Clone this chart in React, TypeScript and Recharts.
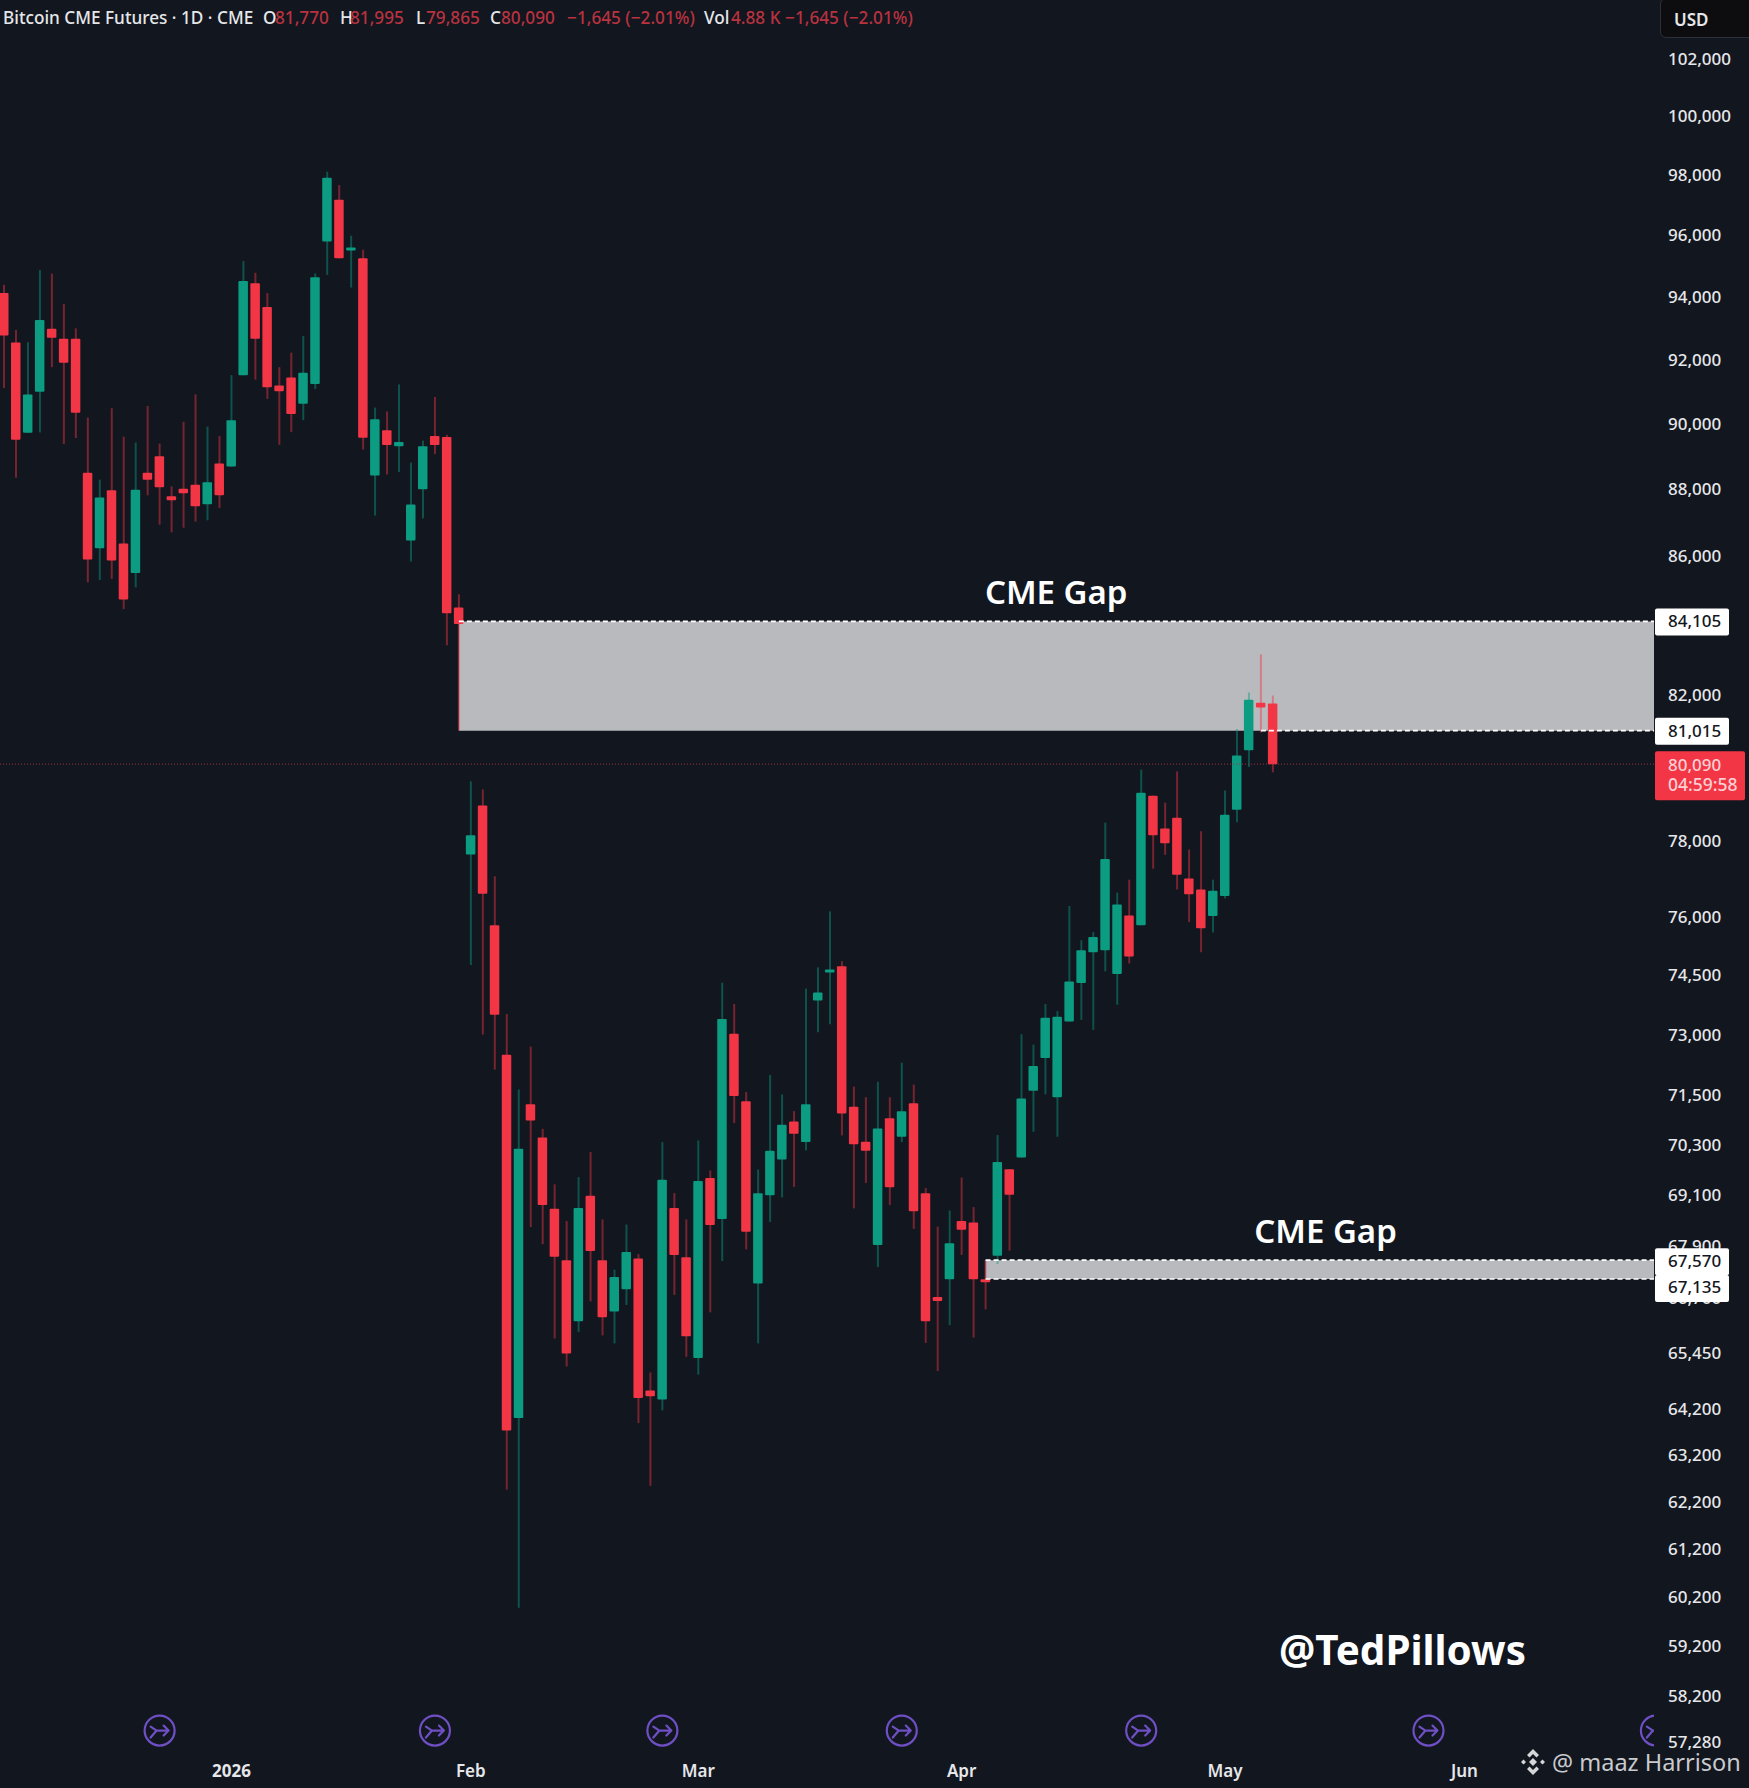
import React from "react"
import { ComposedChart, Bar, XAxis, YAxis, ReferenceArea, ReferenceLine, ReferenceDot } from "recharts"

// daily candles
const opens = [
  94120, 92540, 89720, 90990, 92980, 92660, 92660, 88500, 86240, 87970, 86380, 85510, 88500, 89000, 87790, 88020, 88140, 87550, 88780, 88690,
  91510, 94440, 93670, 91190, 91440, 90620, 91230, 95800, 97180, 95570, 95250, 88420, 89800, 89310, 86470, 88000, 89620, 89590, 84510, 77650,
  78960, 75790, 72500, 64010, 71280, 70470, 68770, 67570, 66170, 69080, 67570, 66390, 66900, 67610, 64620, 64420, 68790, 67640, 65340, 69500,
  68530, 73020, 71350, 67030, 69090, 69940, 70860, 70360, 73860, 74580, 74730, 71220, 70370, 67920, 70940, 70490, 71300, 69140, 66720, 67130,
  68480, 68450, 67130, 67670, 69710, 69990, 71610, 72420, 71450, 73330, 74300, 75090, 75140, 74530, 76040, 75790, 79230, 78340, 78630, 77010,
  76720, 76030, 76550, 78850, 80470, 81790, 81770,
]
const highs = [
  94390, 92940, 92550, 94870, 94750, 93770, 92990, 90190, 88290, 90480, 89600, 89420, 90550, 89390, 88090, 90060, 90910, 89910, 89620, 91510,
  95160, 94780, 94120, 91760, 92220, 92750, 94760, 98120, 97670, 95990, 95530, 90500, 90380, 91220, 88810, 89480, 90830, 89660, 84890, 79620,
  79400, 77070, 73520, 71640, 72700, 70680, 69350, 68480, 69520, 70120, 68520, 67350, 68400, 67710, 65020, 70360, 69140, 68520, 70400, 69680,
  74310, 73770, 71580, 69700, 72000, 71520, 71110, 74160, 74700, 76150, 74860, 71710, 71450, 71830, 71450, 72300, 71760, 69260, 68350, 68730,
  69510, 68810, 67570, 70530, 69710, 73010, 72750, 73770, 73590, 76290, 75400, 75610, 78500, 76640, 76980, 79940, 79230, 79040, 79890, 77780,
  78270, 76980, 79370, 81060, 82080, 83160, 81995,
]
const lows = [
  91110, 88350, 89720, 89730, 91760, 89380, 89560, 85240, 85310, 85340, 84460, 85090, 87820, 86940, 86710, 86850, 87030, 87070, 87440, 88690,
  91510, 91370, 90770, 89350, 89740, 90110, 91080, 94710, 95250, 94300, 89210, 87210, 88450, 88520, 85850, 87130, 89070, 83420, 81015, 74760,
  73000, 72130, 62460, 59980, 68340, 67940, 65780, 65150, 65930, 66620, 65850, 65670, 66540, 63900, 62540, 64180, 66770, 65370, 64970, 66370,
  67550, 70820, 67820, 65670, 68460, 69040, 69290, 70160, 73060, 73260, 70520, 68780, 69380, 67410, 68860, 70360, 68300, 65680, 65050, 66080,
  67690, 65800, 66440, 67480, 67790, 69990, 70610, 71520, 70490, 73330, 73370, 73120, 74600, 73750, 74800, 75790, 77270, 77640, 76720, 75870,
  75090, 75600, 76490, 78510, 80010, 80960, 79865,
]
const closes = [
  92760, 89510, 90910, 93260, 92690, 91900, 90340, 85910, 87750, 85880, 84740, 87990, 88290, 88060, 87670, 87880, 87490, 88210, 87820, 90110,
  94510, 92660, 91130, 91010, 90300, 91590, 94630, 97920, 95250, 95600, 89570, 90140, 89350, 89440, 87540, 89310, 89350, 84340, 84030, 78160,
  76610, 73500, 63740, 70200, 70880, 68860, 67650, 65440, 68790, 67780, 66260, 67180, 67760, 64450, 64490, 69460, 67690, 65830, 69430, 68390,
  73390, 71480, 68230, 69140, 70150, 70780, 70560, 71280, 74060, 74650, 71050, 70310, 70150, 70690, 69280, 71110, 68710, 66170, 66630, 67960,
  68280, 67130, 67090, 69880, 69100, 71420, 72220, 73420, 73450, 74340, 75140, 75480, 77530, 76330, 74980, 79310, 78160, 77950, 77110, 76600,
  75710, 76690, 78710, 80330, 81880, 81660, 80090,
]

const priceTicks = [
  102000, 100000, 98000, 96000, 94000, 92000, 90000, 88000, 86000, 82000, 78000, 76000, 74500, 73000, 71500, 70300, 69100, 67900, 66700,
  65450, 64200, 63200, 62200, 61200, 60200, 59200, 58200, 57280,
]
const gapLevels = [84105, 81015, 67570, 67135]
const lastPrice = 80090
const countdown = "04:59:58"

const monthDays = [19, 39, 58, 80, 102, 122]
const monthLabels = ["2026", "Feb", "Mar", "Apr", "May", "Jun"]
const eventDays = [13, 36, 55, 75, 95, 119, 138]

const BG = "#12161f"
const UP = "#0b9c82"
const DOWN = "#f23645"
const FONT = "'Noto Sans', sans-serif"

const WIDTH = 1749
const HEIGHT = 1788
const PLOT_W = 1654
const X_DOMAIN = [-0.334, 137.84]
const Y_DOMAIN = [57030, 104066]

const candles = opens.map((open, i) => ({
  day: i,
  up: closes[i] >= open,
  body: [Math.min(open, closes[i]), Math.max(open, closes[i])],
  wick: [lows[i], highs[i]],
}))

const fmt = (v: number) => v.toLocaleString("en-US")

function Body(props: any) {
  const { x, y, width, height, payload } = props
  const h = Math.max(height, 3)
  return <rect x={x} y={y} width={width} height={h} rx={1} fill={payload.up ? UP : DOWN} />
}

function Wick(props: any) {
  const { x, y, width, height, payload } = props
  return <rect x={x} y={y} width={width} height={height} fill={payload.up ? UP : DOWN} fillOpacity={0.45} />
}

function PriceTick(props: any) {
  const { x, y, payload } = props
  const v = payload.value
  const left = x - 7
  const tx = x + 6
  if (v === lastPrice) {
    return (
      <g fontFamily={FONT} fontSize={17} fontWeight={500}>
        <rect x={left} y={y - 13} width={90} height={49} rx={2} fill={DOWN} />
        <text x={tx} y={y + 7} fill="#fbd0d4">{fmt(v)}</text>
        <text x={tx} y={y + 27} fontSize={17.5} fill="#fbd0d4">{countdown}</text>
      </g>
    )
  }
  if (gapLevels.includes(v)) {
    // the two lower labels sit against each other, so they get pushed apart
    const top = v === 67570 ? y - 12 : v === 67135 ? y - 4 : y - 13
    const ty = v === 67570 ? y + 7 : v === 67135 ? y + 14 : y + 6
    return (
      <g fontFamily={FONT} fontSize={17} fontWeight={500}>
        <rect x={left} y={top} width={74} height={27} rx={2} fill="#ffffff" />
        <text x={tx} y={ty} fill="#131722">{fmt(v)}</text>
      </g>
    )
  }
  return (
    <text x={tx} y={y + 6} fontFamily={FONT} fontSize={17} fontWeight={500} fill="#e6e7ea">
      {fmt(v)}
    </text>
  )
}

function MonthTick(props: any) {
  const { x, y, payload } = props
  const label = monthLabels[monthDays.indexOf(payload.value)]
  return (
    <text x={x} y={y + 14} textAnchor="middle" fontFamily={FONT} fontSize={17} fontWeight={label === "2026" ? 700 : 600} fill="#e6e7ea">
      {label}
    </text>
  )
}

function EventIcon(props: any) {
  const { cx, cy } = props
  const id = `clip-${Math.round(cx)}`
  return (
    <g>
      <clipPath id={id}>
        <rect x={cx - 20} y={cy - 20} width={Math.min(40, PLOT_W - cx + 20)} height={40} />
      </clipPath>
      <g clipPath={`url(#${id})`} fill="none" stroke="#6f4fc4" strokeWidth={2.2} strokeLinecap="round" strokeLinejoin="round">
        <circle cx={cx} cy={cy} r={15} />
        <path d={`M${cx - 9} ${cy - 4} L${cx - 3} ${cy} L${cx + 9} ${cy} M${cx + 4} ${cy - 5} L${cx + 9} ${cy} L${cx + 4} ${cy + 5} M${cx - 9} ${cy + 7} L${cx - 3} ${cy}`} />
      </g>
    </g>
  )
}

const gapLabel = (value: string) => ({
  value,
  position: "top" as const,
  offset: 17,
  fill: "#ffffff",
  fontFamily: FONT,
  fontSize: 33,
  fontWeight: 600,
})

const headerParts = [
  { t: "Bitcoin CME Futures · 1D · CME", x: 3, c: "#e6e7ea" },
  { t: "O", x: 263, c: "#e6e7ea" },
  { t: "81,770", x: 275, c: "#b8323f" },
  { t: "H", x: 340, c: "#e6e7ea" },
  { t: "81,995", x: 350, c: "#b8323f" },
  { t: "L", x: 416, c: "#e6e7ea" },
  { t: "79,865", x: 426, c: "#b8323f" },
  { t: "C", x: 490, c: "#e6e7ea" },
  { t: "80,090", x: 501, c: "#b8323f" },
  { t: "−1,645 (−2.01%)", x: 567, c: "#b8323f" },
  { t: "Vol", x: 704, c: "#e6e7ea" },
  { t: "4.88 K", x: 731, c: "#b8323f" },
  { t: "−1,645 (−2.01%)", x: 785, c: "#b8323f" },
]

const dash = { stroke: "#ffffff", strokeWidth: 1.6, strokeDasharray: "5 3" }

export default function App() {
  return (
    <div style={{ position: "absolute", left: 0, top: 0, width: WIDTH, height: HEIGHT, background: BG, overflow: "hidden" }}>
      <ComposedChart width={WIDTH} height={HEIGHT} data={candles} margin={{ top: 0, right: 0, bottom: 0, left: 0 }} barGap={0}>
        <XAxis
          xAxisId="main"
          type="number"
          dataKey="day"
          domain={X_DOMAIN}
          allowDataOverflow
          ticks={monthDays}
          interval={0}
          height={33}
          axisLine={false}
          tickLine={false}
          tick={<MonthTick />}
        />
        <XAxis xAxisId="wicks" type="number" dataKey="day" domain={X_DOMAIN} allowDataOverflow hide />
        <YAxis
          yAxisId="price"
          orientation="right"
          scale="log"
          domain={Y_DOMAIN}
          allowDataOverflow
          ticks={[...priceTicks, ...gapLevels, lastPrice]}
          interval={0}
          width={WIDTH - PLOT_W}
          axisLine={false}
          tickLine={false}
          tick={<PriceTick />}
        />

        <ReferenceArea xAxisId="main" yAxisId="price" x1={38} x2={X_DOMAIN[1]} y1={81015} y2={84105} fill="#b9babd" fillOpacity={1} stroke="none" />
        <ReferenceArea xAxisId="main" yAxisId="price" x1={82} x2={X_DOMAIN[1]} y1={67135} y2={67570} fill="#b9babd" fillOpacity={1} stroke="none" />
        <ReferenceLine xAxisId="main" yAxisId="price" y={lastPrice} stroke="#a0304a" strokeDasharray="1 2" />
        <ReferenceLine xAxisId="main" yAxisId="price" segment={[{ x: 38, y: 84105 }, { x: X_DOMAIN[1], y: 84105 }]} {...dash} />
        <ReferenceLine xAxisId="main" yAxisId="price" segment={[{ x: 105, y: 81015 }, { x: X_DOMAIN[1], y: 81015 }]} {...dash} />
        <ReferenceLine xAxisId="main" yAxisId="price" segment={[{ x: 82, y: 67570 }, { x: X_DOMAIN[1], y: 67570 }]} {...dash} />
        <ReferenceLine xAxisId="main" yAxisId="price" segment={[{ x: 82, y: 67135 }, { x: X_DOMAIN[1], y: 67135 }]} {...dash} />

        <Bar xAxisId="wicks" yAxisId="price" dataKey="wick" barSize={2} shape={<Wick />} isAnimationActive={false} />
        <Bar xAxisId="main" yAxisId="price" dataKey="body" barSize={9.5} shape={<Body />} isAnimationActive={false} />

        <ReferenceDot xAxisId="main" yAxisId="price" x={87.9} y={84105} r={0} label={gapLabel("CME Gap")} />
        <ReferenceDot xAxisId="main" yAxisId="price" x={110.4} y={67570} r={0} label={gapLabel("CME Gap")} />
        {eventDays.map((d) => (
          <ReferenceDot key={d} xAxisId="main" yAxisId="price" x={d} y={57510} ifOverflow="visible" shape={<EventIcon />} />
        ))}
      </ComposedChart>

      {headerParts.map((p, i) => (
        <span key={i} style={{ position: "absolute", left: p.x, top: 6, fontFamily: FONT, fontSize: 17.2, fontWeight: 500, color: p.c, whiteSpace: "nowrap" }}>
          {p.t}
        </span>
      ))}
      <div style={{ position: "absolute", left: 1660, top: -2, width: 95, height: 40, background: "#0d0d10", border: "1.5px solid #2c3038", borderRadius: 6, fontFamily: FONT, fontSize: 17, fontWeight: 600, color: "#e6e7ea", lineHeight: "42px", paddingLeft: 13, boxSizing: "border-box" }}>
        USD
      </div>
      <div style={{ position: "absolute", left: 1279, top: 1622, fontFamily: FONT, fontSize: 40.4, fontWeight: 700, color: "#ffffff", whiteSpace: "nowrap" }}>
        @TedPillows
      </div>
      <svg style={{ position: "absolute", left: 1519, top: 1748 }} width={28} height={28} viewBox="-14 -14 28 28" fill="#d5d6d8">
        <path d="M0 -4 L4 0 L0 4 L-4 0 Z" />
        <path d="M-9.5 -2.5 L-7 0 L-9.5 2.5 L-12 0 Z M9.5 -2.5 L12 0 L9.5 2.5 L7 0 Z" />
        <path d="M0 -13 L6 -7 L3.5 -4.5 L0 -8 L-3.5 -4.5 L-6 -7 Z M0 13 L6 7 L3.5 4.5 L0 8 L-3.5 4.5 L-6 7 Z" />
      </svg>
      <div style={{ position: "absolute", left: 1552, top: 1746, fontFamily: FONT, fontSize: 23.5, color: "#c9cacd", whiteSpace: "nowrap" }}>
        @ maaz Harrison
      </div>
    </div>
  )
}
